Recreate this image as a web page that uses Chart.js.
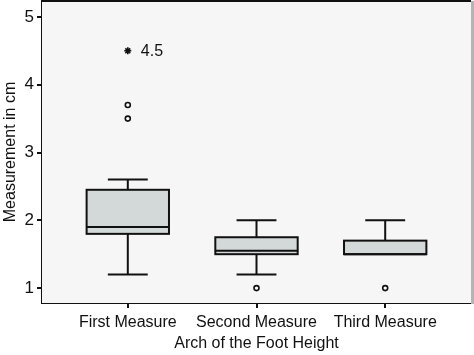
<!DOCTYPE html>
<html><head><meta charset="utf-8">
<script src="https://cdn.jsdelivr.net/npm/chart.js@4/dist/chart.umd.min.js"></script>
<style>html,body{margin:0;padding:0;background:#fff}#wrap{width:474px;height:355px}</style>
</head><body><div id="wrap"><canvas id="c" width="474" height="355"></canvas></div>
<script>
const categories = ["First Measure", "Second Measure", "Third Measure"];
const whiskerLow = [1.2, 1.2, 1.5];
const q1 = [1.8, 1.5, 1.5];
const median = [1.9, 1.55, 1.5];
const q3 = [2.45, 1.75, 1.7];
const whiskerHigh = [2.6, 2.0, 2.0];
const outlierCategory = [1, 1, 2, 3];
const outlierValue = [3.7, 3.5, 1.0, 1.0];
const extremeCategory = [1];
const extremeValue = [4.5];
const extremeLabel = ["4.5"];
const yTicks = [1, 2, 3, 4, 5];

const FONT = "'Liberation Sans', Arial, sans-serif";

const boxPlugin = {
  id: 'boxes',
  beforeDatasetsDraw(chart) {
    const {ctx, chartArea: a, scales: {x, y}} = chart;
    ctx.save();
    ctx.fillStyle = '#f6f6f6';
    ctx.fillRect(a.left, a.top, a.right - a.left, a.bottom - a.top);
    ctx.strokeStyle = '#111';
    ctx.lineWidth = 2;
    ctx.beginPath(); ctx.moveTo(a.left, a.top); ctx.lineTo(a.right, a.top); ctx.stroke();
    ctx.fillStyle = '#b4b4b4';
    ctx.fillRect(a.right, a.top, 3, a.bottom - a.top + 1);
    const unit = x.getPixelForValue(2) - x.getPixelForValue(1);
    const bw = unit * 0.64, cw = unit * 0.31;
    ctx.strokeStyle = '#111'; ctx.lineWidth = 2;
    categories.forEach((c, i) => {
      const cx = x.getPixelForValue(i + 1);
      const yl = y.getPixelForValue(whiskerLow[i]), yh = y.getPixelForValue(whiskerHigh[i]);
      const y1 = y.getPixelForValue(q1[i]), y3 = y.getPixelForValue(q3[i]), ym = y.getPixelForValue(median[i]);
      ctx.beginPath();
      ctx.moveTo(cx, y3); ctx.lineTo(cx, yh);
      ctx.moveTo(cx - cw / 2, yh); ctx.lineTo(cx + cw / 2, yh);
      if (whiskerLow[i] < q1[i]) {
        ctx.moveTo(cx, y1); ctx.lineTo(cx, yl);
        ctx.moveTo(cx - cw / 2, yl); ctx.lineTo(cx + cw / 2, yl);
      }
      ctx.stroke();
      ctx.fillStyle = '#d3d8d8';
      ctx.fillRect(cx - bw / 2, y3, bw, y1 - y3);
      ctx.strokeRect(cx - bw / 2, y3, bw, y1 - y3);
      ctx.beginPath(); ctx.moveTo(cx - bw / 2, ym); ctx.lineTo(cx + bw / 2, ym); ctx.stroke();
    });
    ctx.restore();
  },
  afterDatasetsDraw(chart) {
    const {ctx, scales: {x, y}} = chart;
    ctx.save();
    ctx.font = '16px ' + FONT; ctx.fillStyle = '#111';
    ctx.textBaseline = 'middle'; ctx.textAlign = 'left';
    extremeValue.forEach((v, i) => {
      ctx.fillText(extremeLabel[i], x.getPixelForValue(extremeCategory[i]) + 13, y.getPixelForValue(v) + 1);
    });
    ctx.restore();
  }
};

new Chart(document.getElementById('c'), {
  type: 'scatter',
  data: {
    datasets: [
      { data: outlierCategory.map((c, i) => ({x: c, y: outlierValue[i]})),
        pointStyle: 'circle', pointRadius: 2.5, borderWidth: 1.6, borderColor: '#111', backgroundColor: '#fff' },
      { data: extremeCategory.map((c, i) => ({x: c, y: extremeValue[i]})),
        pointStyle: 'star', pointRadius: 3.5, borderWidth: 1.6, borderColor: '#111', backgroundColor: '#111' }
    ]
  },
  options: {
    responsive: false, animation: false, events: [],
    layout: { autoPadding: false, padding: { top: 1, right: 3, left: 0, bottom: 0 } },
    plugins: { legend: { display: false }, tooltip: { enabled: false } },
    scales: {
      x: {
        type: 'linear', min: 1/3, max: 11/3,
        afterBuildTicks: s => { s.ticks = categories.map((c, i) => ({value: i + 1})); },
        afterFit: s => { s.height = 52; s.paddingLeft = 0; s.paddingRight = 0; },
        ticks: { callback: (v) => categories[Math.round(v) - 1], font: { size: 16, family: FONT }, color: '#111', padding: 5, maxRotation: 0, autoSkip: false },
        grid: { drawOnChartArea: false, drawTicks: true, tickLength: 5, color: '#111', lineWidth: 2 },
        border: { display: true, color: '#111', width: 2 },
        title: { display: true, text: 'Arch of the Foot Height', font: { size: 16, family: FONT }, color: '#111', padding: { top: 0, bottom: 2 } }
      },
      y: {
        min: 0.78, max: 5.235,
        afterBuildTicks: s => { s.ticks = yTicks.map(v => ({value: v})); },
        afterFit: s => { s.width = 42; s.paddingTop = 0; s.paddingBottom = 0; },
        ticks: { font: { size: 17, family: FONT }, color: '#111', padding: 3 },
        grid: { drawOnChartArea: false, drawTicks: true, tickLength: 5, color: '#111', lineWidth: 2 },
        border: { display: true, color: '#111', width: 2 },
        title: { display: true, text: 'Measurement in cm', font: { size: 16, family: FONT }, color: '#111', padding: { top: 1, bottom: 0 } }
      }
    }
  },
  plugins: [boxPlugin]
});
</script></body></html>
